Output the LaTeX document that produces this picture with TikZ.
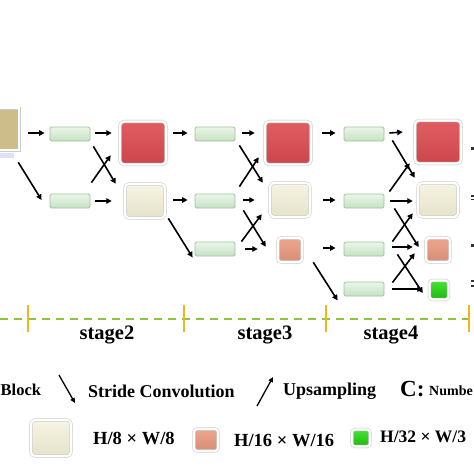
\documentclass[tikz,border=0pt]{standalone}
\usepackage{fontspec}
\setmainfont{Liberation Serif}
\usetikzlibrary{arrows.meta,calc}
\definecolor{redT}{HTML}{E05E62}
\definecolor{redB}{HTML}{CC464B}
\definecolor{creT}{HTML}{F6F4E3}
\definecolor{creB}{HTML}{E6E3CA}
\definecolor{salT}{HTML}{EDA68E}
\definecolor{salB}{HTML}{D88D74}
\definecolor{grnT}{HTML}{45E533}
\definecolor{grnB}{HTML}{1FB512}
\definecolor{gbT}{HTML}{EAF6E8}
\definecolor{gbB}{HTML}{C6E1C3}
\definecolor{gbD}{HTML}{9EC39B}
\definecolor{tanC}{HTML}{CDBD8A}
\definecolor{dashG}{HTML}{8CC63F}
\definecolor{tickO}{HTML}{F2B51C}
\tikzset{
  glow/.style={draw=black!22, double=white, double distance=2.2pt, line width=0.5pt, rounded corners=4pt},
  redbox/.style={glow, minimum width=46pt, minimum height=43pt, inner sep=0pt, top color=redT, bottom color=redB},
  crebox/.style={glow, minimum width=40pt, minimum height=34pt, inner sep=0pt, top color=creT, bottom color=creB},
  salbox/.style={glow, minimum width=24pt, minimum height=24pt, inner sep=0pt, rounded corners=3pt, top color=salT, bottom color=salB},
  grnbox/.style={glow, minimum width=19pt, minimum height=19pt, inner sep=0pt, rounded corners=3pt, top color=grnT, bottom color=grnB},
  gbar/.style={draw=gbD, line width=0.8pt, rounded corners=1.5pt, minimum width=40pt, minimum height=14pt, inner sep=0pt, top color=gbT, bottom color=gbB},
  arr/.style={-{Triangle[length=5.5pt,width=5.5pt]}, line width=1.6pt, black},
  stagelbl/.style={font=\fontsize{20.5}{20.5}\selectfont\bfseries},
  leglbl/.style={font=\fontsize{18}{18}\selectfont\bfseries, anchor=west, inner sep=0pt},
  mathlbl/.style={font=\fontsize{18.5}{18.5}\selectfont\bfseries, anchor=west, inner sep=0pt},
}
\begin{document}
\begin{tikzpicture}[x=1pt, y=-1pt]
\useasboundingbox (0,0) rectangle (474,474);
\clip (0,0) rectangle (474,474);
\fill[white] (0,0) rectangle (474,474);
% input block
\node[draw=black!20, double=white, double distance=2pt, line width=0.5pt, fill=tanC, minimum width=30pt, minimum height=42pt, inner sep=0pt] (tan) at (4,129) {};
\node[fill=black!18!blue!12, minimum width=16pt, minimum height=5pt, inner sep=0pt] (tanbase) at (6,155) {};
% green bars
\node[gbar] (g1) at (70,134) {};
\node[gbar] (g2) at (70,201) {};
\node[gbar] (g3) at (215,134) {};
\node[gbar] (g4) at (215,201) {};
\node[gbar] (g5) at (215,249) {};
\node[gbar] (g6) at (364,134) {};
\node[gbar] (g7) at (364,201) {};
\node[gbar] (g8) at (364,249) {};
\node[gbar] (g9) at (364,289) {};
% feature boxes
\node[redbox] (red1) at (143,143) {};
\node[crebox] (cre1) at (145,201) {};
\node[redbox] (red2) at (288,143) {};
\node[crebox] (cre2) at (290,200) {};
\node[salbox] (sal1) at (290,250) {};
\node[redbox] (red3) at (438,142) {};
\node[crebox] (cre3) at (438,200) {};
\node[salbox] (sal2) at (438,250) {};
\node[grnbox] (grn) at (439,290) {};
% arrows stage 1 -> 2
\draw[arr] ([shift={(9,4)}]tan.east) -- ([shift={(-5,-1)}]g1.west);
\draw[arr] ([shift={(-1,12)}]tan.south east) -- ([shift={(-8,-1)}]g2.west);
\draw[arr] ([shift={(5,-1)}]g1.east) -- ([shift={(-8,-10)}]red1.west);
\draw[arr] ([shift={(5,0)}]g2.east) -- ([shift={(-13,0)}]cre1.west);
\draw[arr] ([shift={(3,5)}]g1.south east) -- ([shift={(-9,0)}]cre1.north west);
\draw[arr] ([shift={(1,-11)}]g2.north east) -- ([shift={(-9,-9.5)}]red1.south west);
% stage 2 -> 3
\draw[arr] ([shift={(7,-10)}]red1.east) -- ([shift={(-7,-1)}]g3.west);
\draw[arr] ([shift={(8,-1)}]cre1.east) -- ([shift={(-7,-1)}]g4.west);
\draw[arr] ([shift={(3,0)}]cre1.south east) -- ([shift={(-2,1)}]g5.south west);
% stage 3
\draw[arr] ([shift={(7,-1)}]g3.east) -- ([shift={(-10,-10)}]red2.west);
\draw[arr] ([shift={(8,-1)}]g4.east) -- ([shift={(-15,0)}]cre2.west);
\draw[arr] ([shift={(10,0)}]g5.east) -- ([shift={(-20,-1)}]sal1.west);
\draw[arr] ([shift={(4,4)}]g3.south east) -- ([shift={(-7,0)}]cre2.north west);
\draw[arr] ([shift={(4,-7)}]g4.north east) -- ([shift={(-6,-7.5)}]red2.south west);
\draw[arr] ([shift={(8,2)}]g4.south east) -- ([shift={(-12,9)}]sal1.north west);
\draw[arr] ([shift={(6,0)}]g5.north east) -- ([shift={(-8,-3)}]cre2.south west);
% stage 3 -> 4
\draw[arr] ([shift={(11,-10)}]red2.east) -- ([shift={(-8,-1)}]g6.west);
\draw[arr] ([shift={(13,0)}]cre2.east) -- ([shift={(-8,-1)}]g7.west);
\draw[arr] ([shift={(21,-2)}]sal1.east) -- ([shift={(-8,-1)}]g8.west);
\draw[arr] ([shift={(11,0)}]sal1.south east) -- ([shift={(-6,4)}]g9.south west);
% stage 4
\draw[arr] ([shift={(5,-1)}]g6.east) -- ([shift={(-12,-10)}]red3.west);
\draw[arr] ([shift={(6,0)}]g7.east) -- ([shift={(-5,1)}]cre3.west);
\draw[arr] ([shift={(8,-2)}]g8.east) -- ([shift={(-13,-3)}]sal2.west);
\draw[arr] ([shift={(8,0)}]g9.east) -- ([shift={(-6.5,-1)}]grn.west);
\draw[arr] ([shift={(8,-1)}]g6.south east) -- ([shift={(-3,-5)}]cre3.north west);
\draw[arr] ([shift={(5,-2)}]g7.north east) -- ([shift={(-5,-0.5)}]red3.south west);
\draw[arr] ([shift={(10,0)}]g7.south east) -- ([shift={(-7,-3)}]sal2.west);
\draw[arr] ([shift={(8,0)}]g8.north east) -- ([shift={(-5,-4)}]cre3.south west);
\draw[arr] ([shift={(13,-2)}]g8.south east) -- ([shift={(-6.5,3)}]grn.west);
\draw[arr] ([shift={(8,1)}]g9.north east) -- ([shift={(-11,-9)}]sal2.south west);
% cropped labels at right edge
\fill[black!80] (471,147) rectangle (474,149.5);
\fill[black!80] (471,195) rectangle (474,196.5);
\fill[black!80] (471,198.5) rectangle (474,200);
\fill[black!80] (471,244) rectangle (474,246.5);
\fill[black!80] (471,279.5) rectangle (474,282);
\fill[black!80] (471,284.5) rectangle (474,287);
% stage line
\coordinate (dl) at (0,319);
\coordinate (dr) at (474,319);
\draw[dashG, line width=2pt, dash pattern=on 8pt off 6pt] (dl) -- (dr);
\foreach \x in {28,184,326,469} {
  \draw[tickO, line width=2pt] (\x,305) -- (\x,332);
}
\node[stagelbl] (s2) at (107,335) {stage2};
\node[stagelbl] (s3) at (265,335) {stage3};
\node[stagelbl] (s4) at (391,335) {stage4};
% legend row 1
\node[leglbl, font=\fontsize{16.5}{16.5}\selectfont\bfseries] (lblock) at (0.5,390) {Block};
\coordinate (sa1) at (59,375);
\coordinate (sa2) at (75,403);
\draw[-{Triangle[length=5pt,width=4.5pt]}, line width=1.3pt] (sa1) -- (sa2);
\node[leglbl] (lstride) at (88,391) {Stride Convolution};
\coordinate (ua1) at (257,406);
\coordinate (ua2) at (273,377);
\draw[-{Triangle[length=5pt,width=4.5pt]}, line width=1.3pt] (ua1) -- (ua2);
\node[leglbl] (lup) at (283,391) {Upsampling};
\node[leglbl, font=\fontsize{23}{23}\selectfont\bfseries] (lc) at (400,389) {C:};
\node[leglbl, font=\fontsize{14}{14}\selectfont\bfseries] (lnum) at (429,391) {Numbe};
% legend row 2
\node[crebox, minimum width=40pt, minimum height=36pt] (lcre) at (51,438) {};
\node[mathlbl] (l8) at (93,438) {H/8 × W/8};
\node[salbox, minimum width=24pt, minimum height=22pt] (lsal) at (206,440) {};
\node[mathlbl] (l16) at (234,441) {H/16 × W/16};
\node[grnbox, minimum width=18pt, minimum height=17pt] (lgrn) at (361,438) {};
\node[mathlbl, font=\fontsize{17.5}{17.5}\selectfont\bfseries] (l32) at (380,437) {H/32 × W/3};
\end{tikzpicture}
\end{document}
